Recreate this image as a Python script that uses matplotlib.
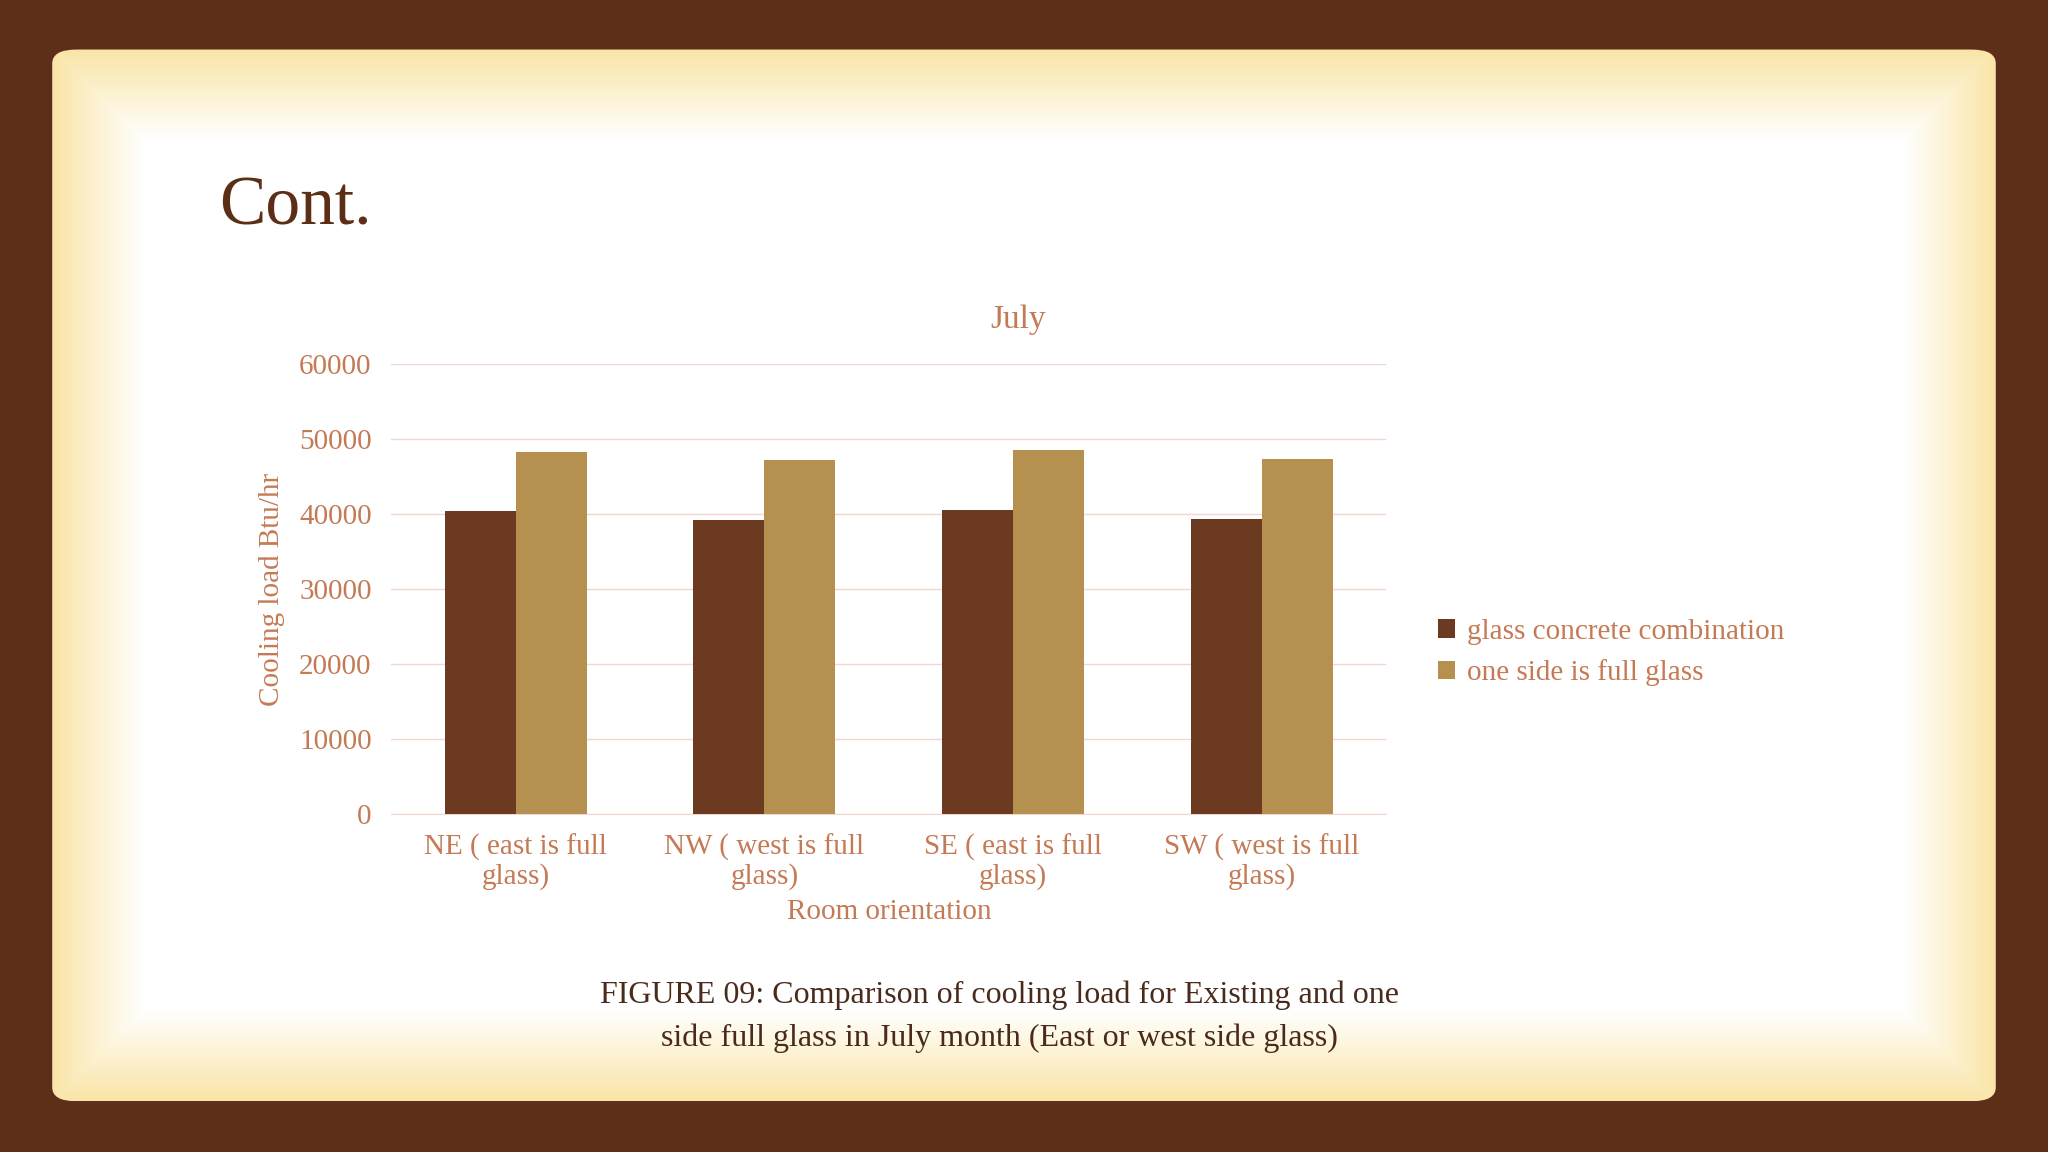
import numpy as np
import matplotlib
matplotlib.use("Agg")
import matplotlib.pyplot as plt
from matplotlib.patches import FancyBboxPatch

categories = ["NE ( east is full\nglass)", "NW ( west is full\nglass)", "SE ( east is full\nglass)", "SW ( west is full\nglass)"]
series1 = [40400, 39200, 40600, 39400]
series2 = [48300, 47200, 48500, 47400]
names = ["glass concrete combination", "one side is full glass"]
yticks = [0, 10000, 20000, 30000, 40000, 50000, 60000]

plt.rcParams['font.family'] = ['Liberation Serif', 'DejaVu Serif']
fig = plt.figure(figsize=(20.48, 11.52), dpi=100)
fig.patch.set_facecolor('#5E2F18')

bg = fig.add_axes([0, 0, 1, 1]); bg.set_xlim(0, 1); bg.set_ylim(0, 1); bg.axis('off')
L, R, B, T = 0.0255, 0.9745, 0.044, 0.957
ny, nx = 300, 500
xs = np.linspace(0, 1, nx); ys = np.linspace(0, 1, ny)
X, Y = np.meshgrid(xs, ys)
d = np.minimum(np.minimum(X * (R - L) * 20.48, (1 - X) * (R - L) * 20.48),
               np.minimum(Y * (T - B) * 11.52, (1 - Y) * (T - B) * 11.52))
t = np.clip(d / 0.9, 0, 1)
edge = np.array([0.98, 0.90, 0.66]); center = np.array([1, 1, 1])
img = edge[None, None, :] * (1 - t[..., None]) + center[None, None, :] * t[..., None]
im = bg.imshow(img, extent=[L, R, B, T], origin='lower', aspect='auto', zorder=1)
patch = FancyBboxPatch((L, B), R - L, T - B, boxstyle="round,pad=0,rounding_size=0.012",
                       transform=bg.transAxes, facecolor='none', edgecolor='none')
bg.add_patch(patch); im.set_clip_path(patch)

fig.text(0.107, 0.805, "Cont.", fontsize=50, color='#5C2E16')

c1, c2, tc = '#6B3A20', '#B5904F', '#C47A55'
ax = fig.add_axes([0.191, 0.293, 0.486, 0.391])
ax.set_facecolor('none')
x = np.arange(len(categories)); w = 0.285
ax.bar(x - w / 2, series1, w, color=c1, label=names[0], zorder=3)
ax.bar(x + w / 2, series2, w, color=c2, label=names[1], zorder=3)
ax.set_xlim(-0.5, 3.5); ax.set_ylim(0, 60000)
ax.set_yticks(yticks)
ax.set_yticklabels([str(v) for v in yticks], fontsize=21, color=tc)
ax.set_xticks(x); ax.set_xticklabels(categories, fontsize=21, color=tc, linespacing=1.1)
ax.grid(axis='y', color='#F0D8D0', lw=1, zorder=0)
for s in ['top', 'right', 'left']: ax.spines[s].set_visible(False)
ax.spines['bottom'].set_color('#F0D8D0')
ax.tick_params(length=0, pad=14)
ax.set_ylabel("Cooling load Btu/hr", fontsize=21, color=tc, labelpad=10)
ax.set_xlabel("Room orientation", fontsize=21, color=tc, labelpad=6)
ax.set_title("July", fontsize=24, color=tc, pad=26, x=0.63)
ax.legend(loc='center left', bbox_to_anchor=(1.025, 0.36), frameon=False,
          fontsize=21, labelcolor=tc, handlelength=0.6, handleheight=0.6, handletextpad=0.4)

fig.text(0.488, 0.117, "FIGURE 09: Comparison of cooling load for Existing and one\nside full glass in July month (East or west side glass)",
         fontsize=23, color='#4A2A1A', ha='center', va='center', linespacing=1.6, multialignment='center')
fig.savefig("out.png", dpi=100, facecolor=fig.get_facecolor())
